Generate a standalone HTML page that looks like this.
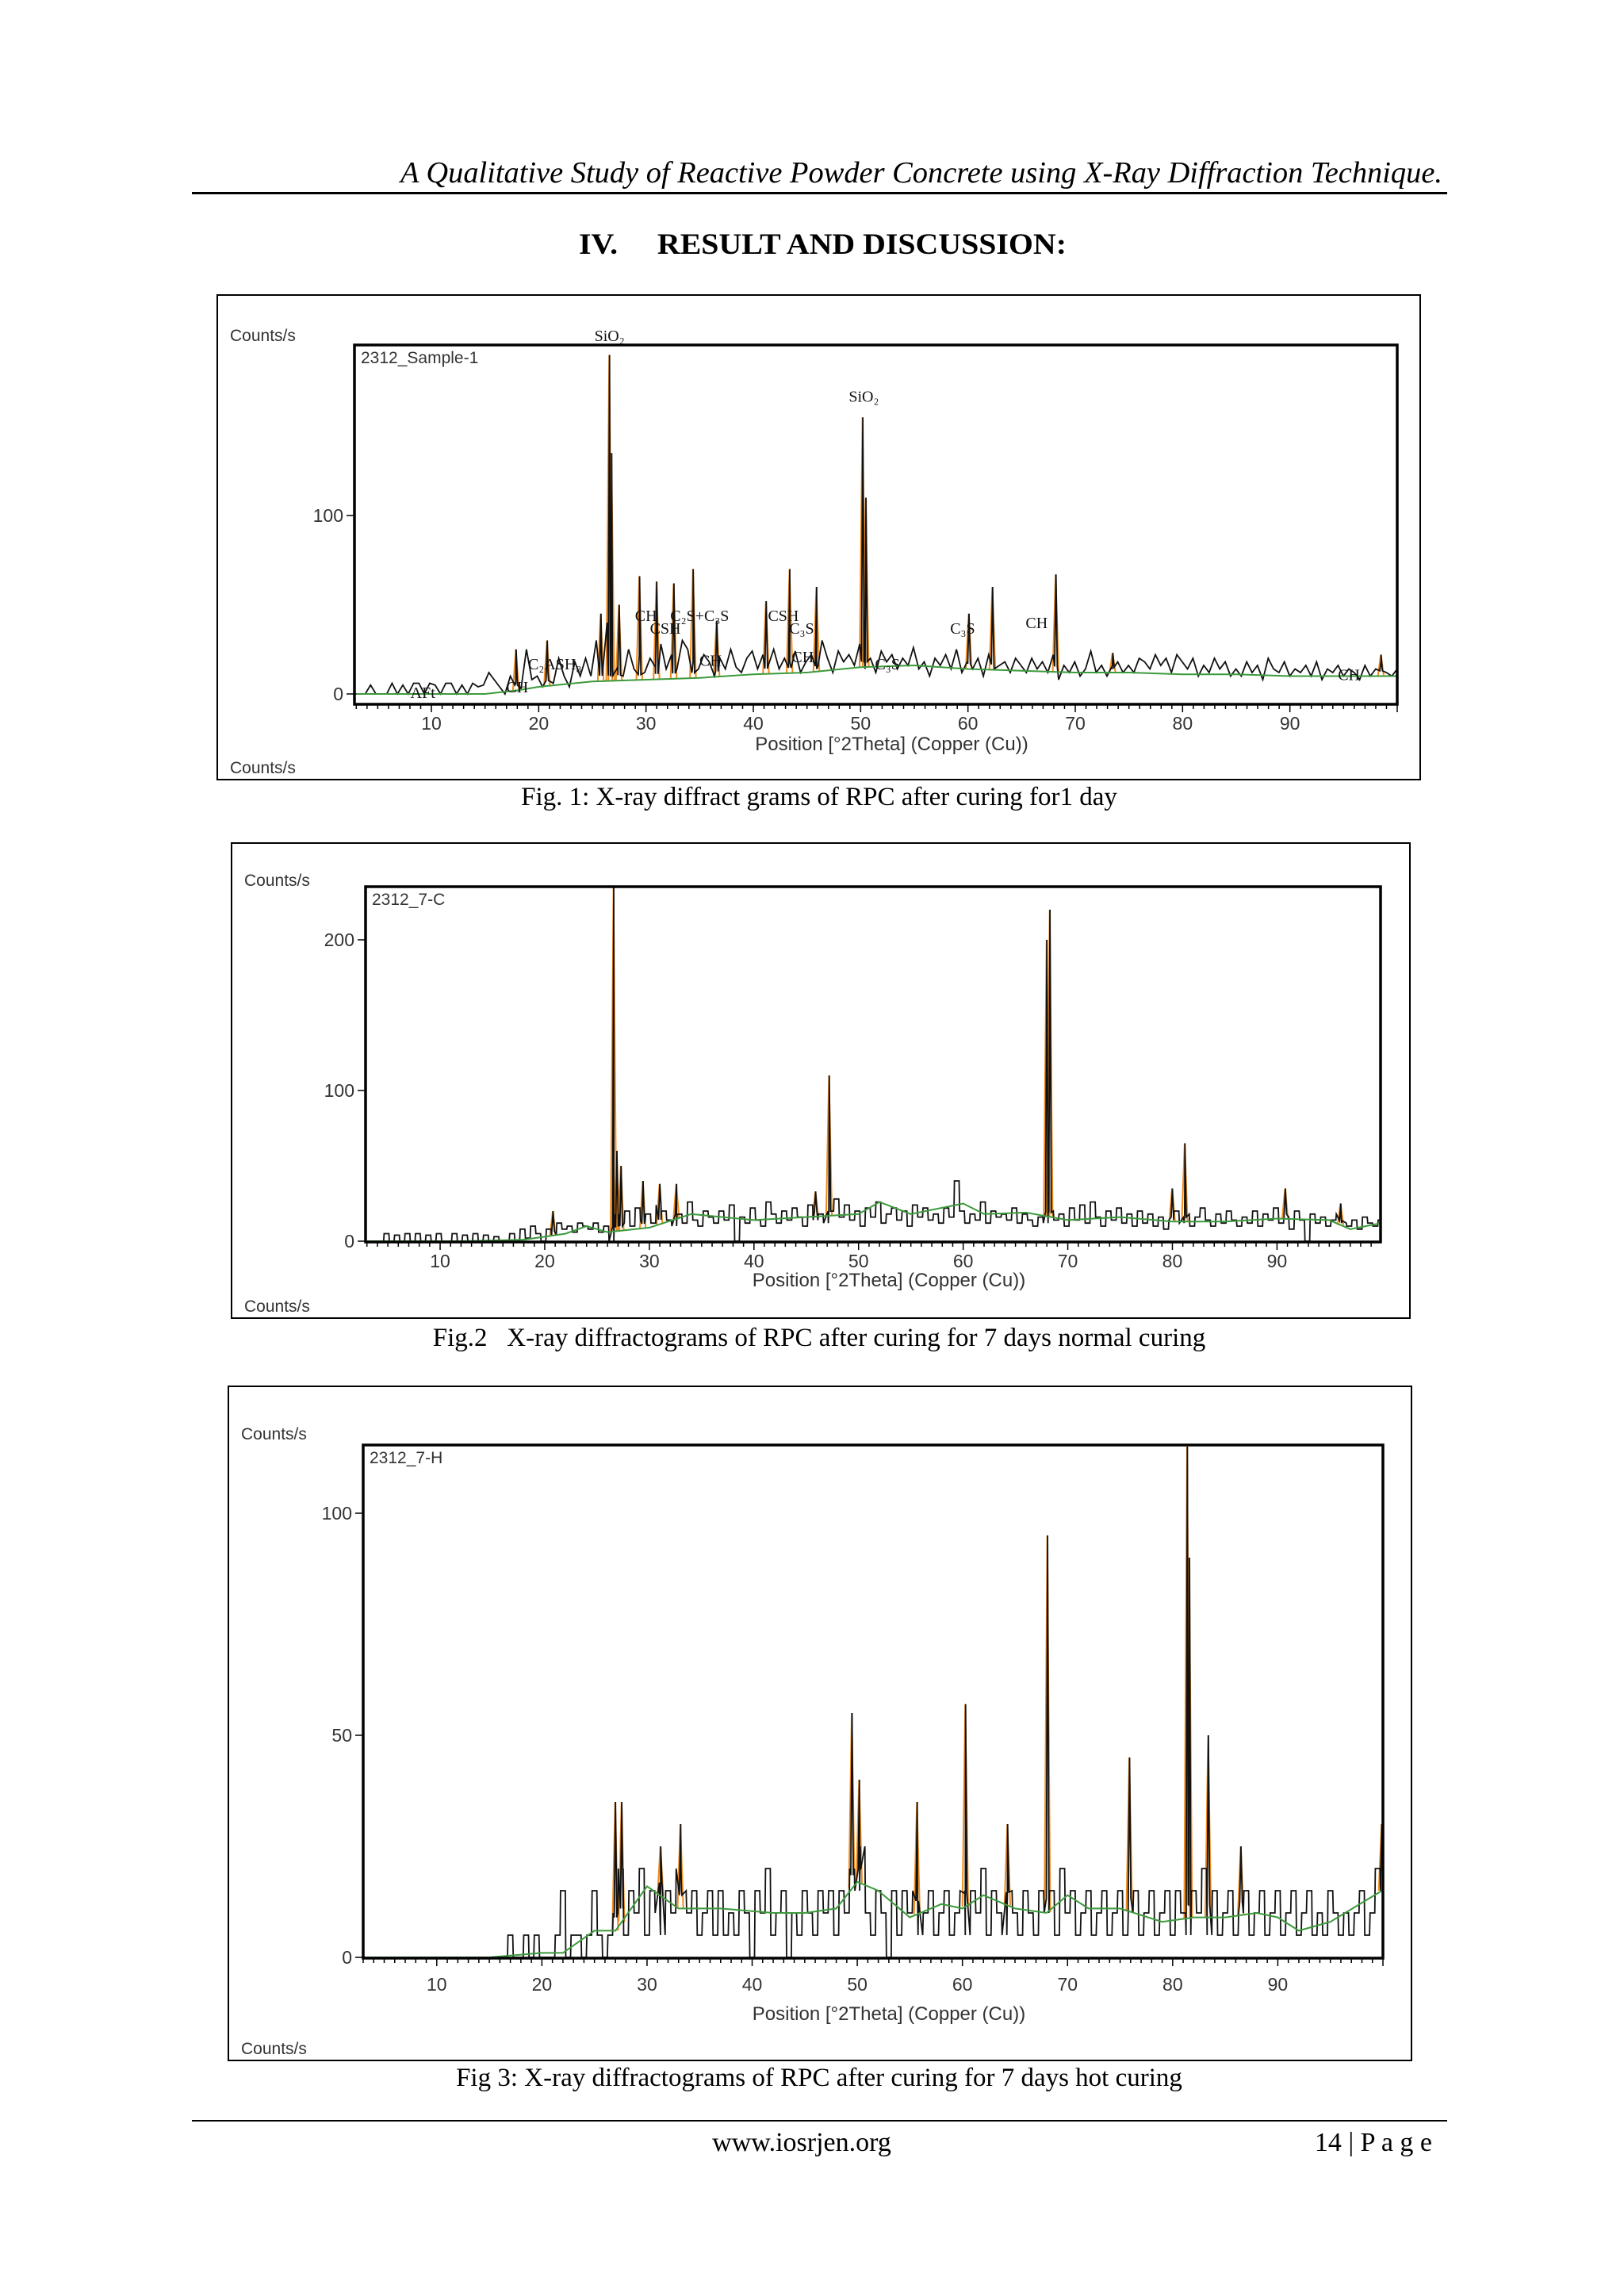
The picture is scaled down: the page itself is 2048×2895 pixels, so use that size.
<!DOCTYPE html>
<html><head><meta charset="utf-8"><style>
body{margin:0;background:#fff;width:2048px;height:2895px;overflow:hidden}
svg{position:absolute;left:0;top:0}
.sans{font-family:"Liberation Sans",sans-serif;fill:#333}
.serif{font-family:"Liberation Serif",serif;fill:#000}
.ann{font-family:"Liberation Serif",serif;font-size:20px;fill:#111}
</style></head><body>
<svg id="page" width="2048" height="2895" viewBox="0 0 2048 2895">
<text class="serif" x="1819" y="230" text-anchor="end" font-size="38" font-style="italic" textLength="1314" lengthAdjust="spacingAndGlyphs">A Qualitative Study of Reactive Powder Concrete using X-Ray Diffraction Technique.</text>
<rect x="242" y="242" width="1583" height="3" fill="#000"/>
<text class="serif" x="730" y="320" font-size="37" font-weight="bold" textLength="615" lengthAdjust="spacingAndGlyphs" xml:space="preserve">IV.     RESULT AND DISCUSSION:</text>
<text class="serif" x="1033" y="1015" text-anchor="middle" font-size="33">Fig. 1: X-ray diffract grams of RPC after curing for1 day</text>
<text class="serif" x="1033" y="1697" text-anchor="middle" font-size="33" xml:space="preserve">Fig.2   X-ray diffractograms of RPC after curing for 7 days normal curing</text>
<text class="serif" x="1033" y="2630" text-anchor="middle" font-size="33">Fig 3: X-ray diffractograms of RPC after curing for 7 days hot curing</text>
<rect x="242" y="2673" width="1583" height="2" fill="#000"/>
<text class="serif" x="1011" y="2712" text-anchor="middle" font-size="34">www.iosrjen.org</text>
<text class="serif" x="1806" y="2712" text-anchor="end" font-size="34">14 | P a g e</text>
<g id="c1"></g>
<g id="c2"></g>
<g id="c3"></g>
</svg>
<script>
// ---- Figure 1 data ----
const noise1 = [0,0,0,5,0,0,0,6,0,5,0,6,6,0,6,5,0,6,6,0,5,0,6,4,
5,12,8,4,0,10,6,3,25,8,10,4,12,6,20,10,4,18,10,20,
10,30,20,40,14,15,10,25,14,22,12,20,15,28,14,22,14,30,25,18,
14,22,18,10,20,14,25,15,12,20,24,14,22,16,25,14,20,18,24,12,
18,22,14,30,20,12,24,18,22,16,28,14,20,12,24,18,22,14,20,16,
26,14,18,10,20,16,22,14,25,12,18,14,20,10,22,14,16,18,12,20,
16,12,20,14,18,12,22,8,16,12,18,10,14,24,12,16,10,14,18,12,
16,12,20,18,14,22,16,20,12,22,18,14,20,10,16,12,20,14,18,10,
14,10,18,12,16,8,20,14,12,18,10,14,12,16,10,18,8,14,12,16,
10,14,12,8,16,10,14,18,12,10,14];
const greenX1 = [3,15,18,20,25,30,35,40,45,50,55,60,65,70,75,80,85,90,95,100];
const greenY1 = [0,0,2,4,7,8,9,11,12,15,16,14,13,12,12,11,11,10,10,10];
const peakPos1 = [17.9,20.8,25.8,26.6,26.8,27.5,29.4,31.0,32.6,34.4,36.6,41.2,43.4,45.9,50.2,50.5,60.1,62.3,68.2,73.5,98.5];
const peakH1 = [25,30,45,190,135,50,66,63,62,70,41,52,70,60,155,110,45,60,67,23,22];
const xTicks1 = [10,20,30,40,50,60,70,80,90];
const yTicks1 = [0,100];
// ---- Figure 2 data ----
const noise2 = [0,0,0,0,5,0,4,0,5,0,5,0,4,0,5,0,0,5,0,4,0,5,0,4,0,3,0,0,5,0,
8,2,10,5,0,8,4,12,8,10,6,12,10,8,12,6,10,0,
18,12,20,10,22,14,18,12,24,20,14,10,18,12,26,14,10,20,16,12,
20,14,24,0,16,12,22,14,10,26,18,12,20,14,22,16,10,24,14,18,
12,20,28,16,24,14,20,10,22,16,26,12,18,22,14,20,10,24,16,22,
14,18,12,22,16,40,20,12,18,14,26,12,20,16,18,14,22,12,18,14,
10,16,12,20,14,18,10,22,14,24,12,26,16,10,20,14,22,12,18,10,
20,12,18,10,16,8,14,20,12,18,10,16,22,14,10,18,12,20,14,10,
16,12,20,10,18,14,22,12,16,8,20,14,0,18,12,16,10,14,18,12,
10,14,8,16,12,10,14];
const greenX2 = [3,12,18,22,24,26,30,34,40,45,50,52,55,60,62,66,70,75,80,85,90,95,97,100];
const greenY2 = [0,0,1,5,10,6,9,18,14,16,18,26,18,25,18,19,14,16,13,13,15,14,8,12];
const peakPos2 = [20.8,26.6,26.9,27.3,29.4,31.0,32.6,45.9,47.2,68.0,68.3,80.0,81.2,90.8,96.1];
const peakH2 = [20,235,60,50,40,38,38,33,110,200,220,35,65,35,25];
const xTicks2 = [10,20,30,40,50,60,70,80,90];
const yTicks2 = [0,100,200];
// ---- Figure 3 data ----
const noise3 = [0,0,0,0,0,0,0,0,0,0,0,0,0,0,0,0,0,0,0,0,0,0,0,0,0,0,0,0,
5,0,0,5,0,5,0,0,0,5,15,0,5,5,0,5,15,5,0,5,
10,20,5,15,10,20,5,15,10,5,15,10,20,15,10,15,5,10,15,5,
15,5,10,5,15,10,0,15,10,20,5,10,15,0,10,5,15,10,5,15,
10,15,5,15,10,20,15,25,10,5,15,10,0,15,5,15,10,15,5,10,
15,5,10,15,5,10,15,5,15,10,20,5,15,10,5,15,10,5,15,10,
5,15,10,15,5,20,10,15,5,10,15,5,10,15,5,10,15,5,10,15,
5,10,15,5,10,15,5,15,10,5,15,10,20,5,15,5,10,15,5,10,
15,5,10,15,5,10,15,5,10,15,5,10,15,5,10,5,15,10,5,10,
5,10,15,5,10,20,15];
const greenX3 = [3,15,20,22,25,27,30,33,37,42,45,48,50,52,55,58,60,62,65,68,70,72,75,79,82,85,88,90,92,95,99.9];
const greenY3 = [0,0,1,1,6,6,16,11,11,10,10,11,17,15,9,12,11,14,11,10,14,11,11,8,9,9,10,9,6,8,15];
const peakPos3 = [27.0,27.6,31.3,33.2,49.5,50.2,55.7,60.3,64.3,68.1,75.9,81.4,81.6,83.4,86.5,99.9];
const peakH3 = [35,35,25,30,55,40,35,57,30,95,45,115,90,50,25,30];
const xTicks3 = [10,20,30,40,50,60,70,80,90];
const yTicks3 = [0,50,100];

const NS='http://www.w3.org/2000/svg';
function mk(parent,tag,attrs){const e=document.createElementNS(NS,tag);for(const k in attrs)e.setAttribute(k,attrs[k]);parent.appendChild(e);return e;}
function interp(xs,ys,x){if(x<=xs[0])return ys[0];for(let i=1;i<xs.length;i++){if(x<=xs[i]){const t=(x-xs[i-1])/(xs[i]-xs[i-1]);return ys[i-1]+t*(ys[i]-ys[i-1]);}}return ys[ys.length-1];}

function drawChart(g,cfg,noise,gX,gY,pPos,pH,xT,yT){
  const X=v=>cfg.L+(v-cfg.x0)/(cfg.x1-cfg.x0)*(cfg.R-cfg.L);
  const Y=v=>cfg.zero-v*cfg.k;
  let f=mk(g,'rect',{x:cfg.fx,y:cfg.fy,width:cfg.fw,height:cfg.fh,fill:'#fff',stroke:'#000','stroke-width':2});
  
  
  let t=mk(g,'text',{x:cfg.fx+16,y:cfg.cy,'font-size':21,class:'sans'});t.textContent='Counts/s';
  
  
  let tb=mk(g,'text',{x:cfg.fx+16,y:cfg.fy+cfg.fh-8,'font-size':21,class:'sans'});tb.textContent='Counts/s';
  
  
  const cid='clip'+g.id;
  const cp=mk(mk(g,'defs',{}),'clipPath',{id:cid});mk(cp,'rect',{x:cfg.L,y:cfg.T-2,width:cfg.R-cfg.L,height:cfg.B-cfg.T+2});
  const pg=mk(g,'g',{'clip-path':'url(#'+cid+')'});
  const n=noise.length;let pts=[];
  const step=(cfg.x1-cfg.x0)/(n-1);
  const items=[];
  for(let i=0;i<n;i++){
    if(cfg.stepped){items.push([cfg.x0+i*step-step*0.45,noise[i]]);items.push([cfg.x0+i*step+step*0.45,noise[i]]);}
    else items.push([cfg.x0+i*step,noise[i]]);
  }
  for(let j=0;j<pPos.length;j++){items.push([pPos[j]-0.12,interp(gX,gY,pPos[j])+3]);items.push([pPos[j],pH[j]]);items.push([pPos[j]+0.12,interp(gX,gY,pPos[j])+3]);}
  items.sort((a,b)=>a[0]-b[0]);
  for(const it of items)pts.push(X(it[0]).toFixed(1)+','+Y(it[1]).toFixed(1));
  for(let j=0;j<pPos.length;j++){
    const b=interp(gX,gY,pPos[j]);
    const o=mk(pg,'polyline',{points:`${X(pPos[j]-0.3)},${Y(b)} ${X(pPos[j]-0.03)},${Y(pH[j])} ${X(pPos[j]+0.25)},${Y(b)}`,fill:'none',stroke:'#f08a1c','stroke-width':2});
    
    
  }
  const pl=mk(pg,'polyline',{points:pts.join(' '),fill:'none',stroke:'#111','stroke-width':1.8,'stroke-linejoin':'miter'});
  
  
  let gp=[];for(let i=0;i<gX.length;i++)gp.push(X(gX[i])+','+Y(gY[i]));
  const gl=mk(pg,'polyline',{points:gp.join(' '),fill:'none',stroke:'#3c9a3c','stroke-width':2});
  
  
  const bx=mk(g,'rect',{x:cfg.L,y:cfg.T,width:cfg.R-cfg.L,height:cfg.B-cfg.T,fill:'none',stroke:'#000','stroke-width':3.5});
  
  
  let sl=mk(g,'text',{x:cfg.L+8,y:cfg.T+23,'font-size':21,class:'sans'});sl.textContent=cfg.name;
  
  
  for(let v=Math.ceil(cfg.x0);v<=cfg.x1;v++){const x=X(v);const big=v%10===0;mk(g,'line',{x1:x,y1:cfg.B,x2:x,y2:cfg.B+(big?10:6),stroke:'#000','stroke-width':1.5});}
  for(const v of xT){const l=mk(g,'text',{x:X(v),y:cfg.tly,'font-size':23,'text-anchor':'middle',class:'sans'});l.textContent=v;
    
    }
  for(const v of yT){mk(g,'line',{x1:cfg.L-10,y1:Y(v),x2:cfg.L,y2:Y(v),stroke:'#000','stroke-width':1.5});
    const l=mk(g,'text',{x:cfg.L-14,y:Y(v)+8,'font-size':23,'text-anchor':'end',class:'sans'});l.textContent=v;
    
    }
  const xt=mk(g,'text',{x:(cfg.L+cfg.R)/2+20,y:cfg.xty,'font-size':24,'text-anchor':'middle',class:'sans'});xt.textContent='Position [°2Theta] (Copper (Cu))';
  
  
  return {X,Y};
}
const c1=drawChart(document.getElementById('c1'),{L:447,R:1762,T:435,B:888,zero:875,k:2.25,x0:2.83,x1:100,fx:274,fy:372,fw:1517,fh:611,cy:430,tly:920,xty:946,name:'2312_Sample-1',stepped:false},noise1,greenX1,greenY1,peakPos1,peakH1,xTicks1,yTicks1);
drawChart(document.getElementById('c2'),{L:461,R:1741,T:1118,B:1566,zero:1565,k:1.9,x0:2.87,x1:99.9,fx:292,fy:1063,fw:1486,fh:599,cy:1117,tly:1598,xty:1622,name:'2312_7-C',stepped:true},noise2,greenX2,greenY2,peakPos2,peakH2,xTicks2,yTicks2);
drawChart(document.getElementById('c3'),{L:458,R:1744,T:1822,B:2469,zero:2468,k:5.6,x0:3.0,x1:100,fx:288,fy:1748,fw:1492,fh:850,cy:1815,tly:2510,xty:2547,name:'2312_7-H',stepped:true},noise3,greenX3,greenY3,peakPos3,peakH3,xTicks3,yTicks3);
const annText=['SiO₂','SiO₂','CH','CSH','C₂S+C₃S','CSH','C₃S','CH','CH','C₃S','C₃S','CH','CH','C₂ASH₈','CH','AFt'];
const annPos=[26.6,50.3,30.0,31.8,35.0,42.8,44.5,44.6,36.0,52.5,59.5,66.4,95.5,21.5,18.0,9.2];
const annCount=[197,163,40,33,40,40,33,17,15,13,33,36,7,13,0,-3];
const g1=document.getElementById('c1');
for(let i=0;i<annText.length;i++){
  const t=document.createElementNS(NS,'text');
  t.setAttribute('x',c1.X(annPos[i]));t.setAttribute('y',c1.Y(annCount[i])-2);
  t.setAttribute('text-anchor','middle');t.setAttribute('class','ann');
  t.textContent=annText[i];
  
  
  g1.appendChild(t);
}
</script>
</body></html>
